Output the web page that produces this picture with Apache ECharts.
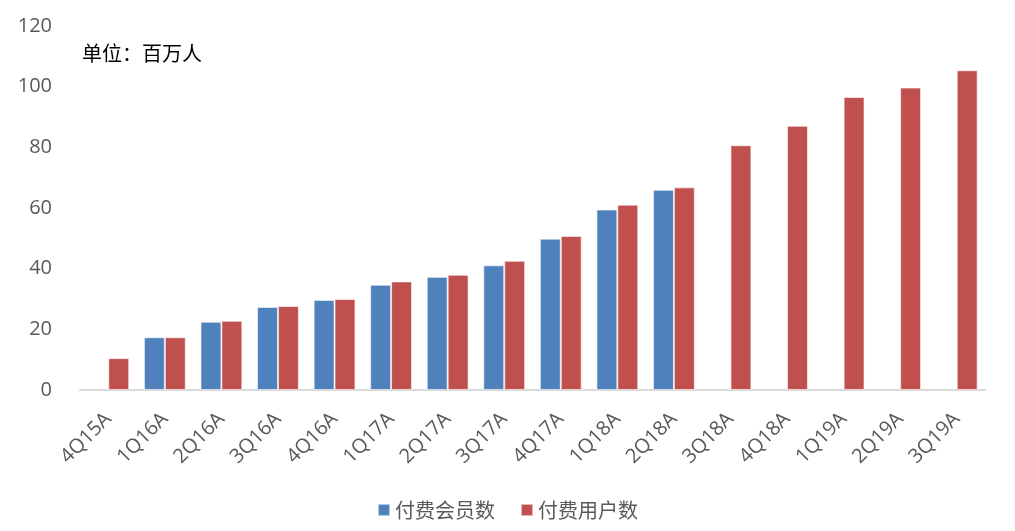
<!DOCTYPE html>
<html>
<head>
<meta charset="utf-8">
<script src="https://cdn.jsdelivr.net/npm/echarts@6/dist/echarts.min.js"></script>
<style>
html,body{margin:0;padding:0;background:#fff;}
#main{width:1015px;height:531px;}
</style>
</head>
<body>
<div id="main"></div>
<script>
var categories = ['4Q15A','1Q16A','2Q16A','3Q16A','4Q16A','1Q17A','2Q17A','3Q17A','4Q17A','1Q18A','2Q18A','3Q18A','4Q18A','1Q19A','2Q19A','3Q19A'];
var memberValues = [null,17.4,22.5,27.4,29.7,34.7,37.3,41.1,49.9,59.5,66.0,null,null,null,null,null];
var userValues = [10.5,17.4,22.8,27.7,30.0,35.8,38.0,42.6,50.8,61.1,66.8,80.7,87.1,96.6,99.7,105.4];
var seriesNames = ['付费会员数','付费用户数'];
var unitLabel = '单位：百万人';

var font = '"Open Sans","Noto Sans CJK SC",sans-serif';
var cjk = '"Noto Sans CJK SC",sans-serif';
var chart = echarts.init(document.getElementById('main'));
chart.setOption({
  animation: false,
  backgroundColor: '#ffffff',
  textStyle: {fontFamily: font},
  title: {
    text: unitLabel,
    left: 77, top: 38,
    textStyle: {fontSize: 20, fontWeight: 'normal', color: '#000000', fontFamily: cjk}
  },
  legend: {
    data: seriesNames,
    bottom: 6,
    left: 'center',
    itemWidth: 12, itemHeight: 12,
    itemGap: 25,
    icon: 'rect',
    textStyle: {fontSize: 20, color: '#595959', fontFamily: cjk}
  },
  grid: {left: 80, right: 30, top: 26, bottom: 141, containLabel: false},
  xAxis: {
    type: 'category',
    data: categories,
    axisLine: {lineStyle: {color: '#d9d9d9', width: 2}},
    axisTick: {show: false},
    axisLabel: {rotate: 45, fontSize: 20, color: '#595959', margin: 26, interval: 0, fontFamily: font}
  },
  yAxis: {
    type: 'value',
    min: 0, max: 120, interval: 20,
    splitLine: {show: false},
    axisLine: {show: false},
    axisTick: {show: false},
    axisLabel: {fontSize: 20, color: '#595959', margin: 28, fontFamily: font}
  },
  series: [
    {
      name: seriesNames[0], type: 'bar', data: memberValues,
      barGap: '0%', barCategoryGap: '26%',
      itemStyle: {color: '#4F81BD', borderColor: 'rgba(255,255,255,0.6)', borderWidth: 1}
    },
    {
      name: seriesNames[1], type: 'bar', data: userValues,
      barGap: '0%', barCategoryGap: '26%',
      itemStyle: {color: '#C0504D', borderColor: 'rgba(255,255,255,0.6)', borderWidth: 1}
    }
  ]
});
</script>
</body>
</html>
